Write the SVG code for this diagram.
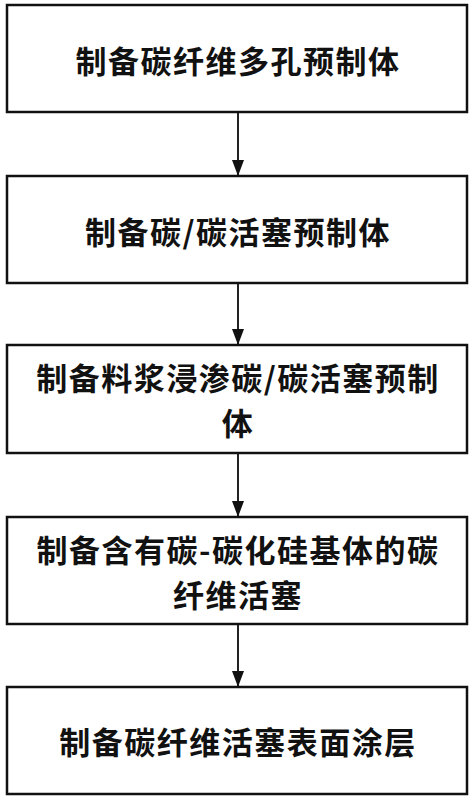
<svg xmlns="http://www.w3.org/2000/svg" width="474" height="799" viewBox="0 0 474 799">
<style>
.box{fill:#fff;stroke:#111;stroke-width:2.5}
.t{font-family:"Noto Sans CJK SC","Noto Sans CJK TC",sans-serif;font-size:31px;font-weight:bold;fill:#111;text-anchor:middle;dominant-baseline:central;letter-spacing:1.5px}
.c{stroke:#222;stroke-width:2;fill:none;marker-end:url(#ah)}
</style>
<defs>
<marker id="ah" markerWidth="16" markerHeight="12" refX="15" refY="6" orient="auto" markerUnits="userSpaceOnUse" viewBox="0 0 16 12">
<path d="M0,0 L16,6 L0,12 Z" fill="#111"/>
</marker>
</defs>
<rect width="474" height="799" fill="#fff"/>
<g id="connectors">
<line class="c" x1="238" y1="112" x2="238" y2="175"/>
<line class="c" x1="238" y1="283" x2="238" y2="344"/>
<line class="c" x1="238" y1="453" x2="238" y2="516"/>
<line class="c" x1="238" y1="624" x2="238" y2="686"/>
</g>
<g id="n1"><rect class="box" x="7" y="5" width="460" height="107"/><text class="t" x="238" y="59">制备碳纤维多孔预制体</text></g>
<g id="n2"><rect class="box" x="7" y="176" width="460" height="107"/><text class="t" x="238" y="230">制备碳/碳活塞预制体</text></g>
<g id="n3"><rect class="box" x="7" y="345" width="460" height="108"/><text class="t" x="238" y="376">制备料浆浸渗碳/碳活塞预制</text><text class="t" x="238" y="421">体</text></g>
<g id="n4"><rect class="box" x="7" y="517" width="460" height="107"/><text class="t" x="238" y="548">制备含有碳-碳化硅基体的碳</text><text class="t" x="238" y="593">纤维活塞</text></g>
<g id="n5"><rect class="box" x="7" y="687" width="460" height="107"/><text class="t" x="238" y="740">制备碳纤维活塞表面涂层</text></g>
</svg>
